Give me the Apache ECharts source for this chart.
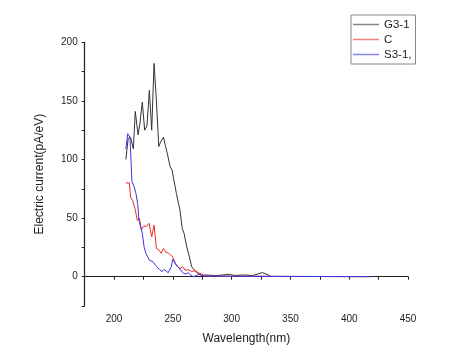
<!DOCTYPE html>
<html>
<head>
<meta charset="utf-8">
<script src="https://cdn.jsdelivr.net/npm/echarts@6/dist/echarts.min.js"></script>
<style>
  html, body { margin: 0; padding: 0; background: #fff; }
  #chart { width: 474px; height: 354px; }
</style>
</head>
<body>
<div id="chart"></div>
<script>
// wavelength (nm) vs current (pA/eV)
const seriesNames = ['G3-1', 'C', 'S3-1,'];

const g31X = [210, 212, 214, 216.4, 218, 220.4, 222, 224, 226, 228, 230, 232, 234, 236, 238, 239.6, 242, 243.6, 245.3, 247.6, 249.3, 250.4, 253, 256, 258, 259.5, 261.7, 264, 266, 268.8, 271.7, 274.5, 278, 285, 290, 298, 303, 310, 318, 326, 330, 333];
const g31Y = [100, 118, 119, 109, 141, 121, 131, 149, 125, 129, 159, 125, 182, 150, 111, 115, 119, 112, 105, 94, 91, 85, 71, 57, 41, 37, 26, 17, 8.5, 5, 2.3, 1, 1.5, 1, 1.2, 2, 1, 1.5, 1, 3.5, 2, 0.5];

const cX = [210, 213, 214, 215.8, 217.8, 219.8, 221.5, 223.2, 225, 227.7, 229.7, 232, 234, 236, 238, 240, 242, 244, 246.4, 248, 249.8, 251.5, 253.8, 256, 258.3, 260.3, 263, 266, 268.8, 271.7, 274.5, 276.5, 418];
const cY = [80, 80, 68, 65, 58, 48, 50, 40, 43, 43, 45.5, 34, 44, 24, 23, 20, 24, 21, 20, 21, 17, 13, 8.5, 7, 8.5, 5.7, 6, 4.5, 5, 3.4, 2.3, 0.5, 0];

const s31X = [210, 211.6, 212.4, 213.5, 214.4, 215.2, 217, 218.6, 220, 221.2, 222.6, 224, 225.5, 227, 228.6, 230, 231.4, 233, 234.2, 236.2, 238.5, 240.8, 242.5, 244.2, 246, 247.6, 248.7, 249.8, 251, 252.7, 254.6, 256.6, 259, 261, 263, 265, 267.4, 270, 273, 275.3, 276.5, 418];
const s31Y = [109, 122, 123, 119, 99, 81, 77, 71, 62.5, 48, 47, 37, 25.6, 20, 17, 14, 15.6, 12.8, 14, 8.5, 6.3, 4.3, 6.3, 5, 3.4, 2.3, 8.5, 14.8, 12.8, 10, 8.5, 5.7, 2.8, 2.3, 3.4, 1.4, 0, 1, 2.3, 0.5, 0, 0];

const xTickLabels = [200, 250, 300, 350, 400, 450];
const yTickLabels = [0, 50, 100, 150, 200];

function zip(xs, ys) {
  return xs.map((x, i) => [x, ys[i]]);
}

const colors = ['#333333', '#ec2b2b', '#3535e8'];
const textColor = '#222';
const fontFamily = '"Liberation Sans", Arial, sans-serif';

const myChart = echarts.init(document.getElementById('chart'));

const option = {
  backgroundColor: '#fff',
  animation: false,
  color: colors,
  grid: {
    left: 84.7,
    right: 66,
    top: 42.3,
    bottom: 48
  },
  legend: {
    data: seriesNames,
    orient: 'vertical',
    left: 351,
    top: 15,
    padding: [3, 4, 3, 2],
    icon: 'rect',
    itemWidth: 26,
    itemHeight: 1.5,
    itemGap: 2,
    borderColor: '#888',
    borderWidth: 1,
    itemStyle: { opacity: 0.6 },
    textStyle: {
      color: textColor,
      fontSize: 11.5,
      lineHeight: 13,
      fontFamily: fontFamily
    }
  },
  xAxis: {
    type: 'value',
    min: 175,
    max: 450,
    name: 'Wavelength(nm)',
    nameLocation: 'middle',
    nameGap: 27,
    nameTextStyle: { color: textColor, fontSize: 12, fontFamily: fontFamily },
    splitLine: { show: false },
    axisLine: { lineStyle: { color: '#222', width: 1.2 } },
    axisTick: {
      length: 3,
      customValues: [175, 200, 225, 250, 275, 300, 325, 350, 375, 400, 425, 450],
      lineStyle: { color: '#222' }
    },
    axisLabel: {
      customValues: xTickLabels,
      margin: 8,
      color: textColor,
      fontSize: 10,
      fontFamily: fontFamily
    }
  },
  yAxis: {
    type: 'value',
    min: -25,
    max: 200,
    name: 'Electric current(pA/eV)',
    nameLocation: 'middle',
    nameGap: 39,
    nameTextStyle: { color: textColor, fontSize: 12, fontFamily: fontFamily },
    splitLine: { show: false },
    axisLine: { show: true, lineStyle: { color: '#222', width: 1.2 } },
    axisTick: {
      show: true,
      length: 3,
      customValues: [-25, 0, 25, 50, 75, 100, 125, 150, 175, 200],
      lineStyle: { color: '#222' }
    },
    axisLabel: {
      customValues: yTickLabels,
      margin: 7,
      color: textColor,
      fontSize: 10,
      fontFamily: fontFamily
    }
  },
  series: [
    {
      name: seriesNames[0],
      type: 'line',
      symbol: 'none',
      data: zip(g31X, g31Y),
      lineStyle: { width: 1 }
    },
    {
      name: seriesNames[1],
      type: 'line',
      symbol: 'none',
      data: zip(cX, cY),
      lineStyle: { width: 1 }
    },
    {
      name: seriesNames[2],
      type: 'line',
      symbol: 'none',
      data: zip(s31X, s31Y),
      lineStyle: { width: 1 }
    }
  ]
};

myChart.setOption(option);
</script>
</body>
</html>
